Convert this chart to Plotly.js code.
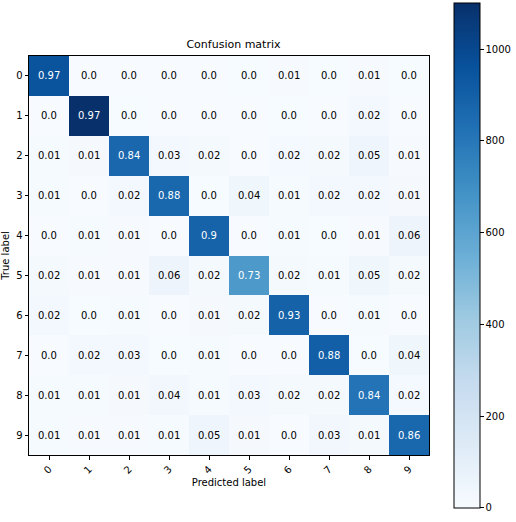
<!DOCTYPE html>
<html>
<head>
<meta charset="utf-8">
<script src="https://cdn.plot.ly/plotly-3.0.1.min.js"></script>
<style>
  html, body { margin: 0; padding: 0; background: #fff; }
  #chart { width: 516px; height: 522px; }
</style>
</head>
<body>
<div id="chart"></div>
<script>
// class labels for both axes
var class_labels = ['0', '1', '2', '3', '4', '5', '6', '7', '8', '9'];

// normalized values printed in each cell (rows = true label)
var cell_text = [
    ['0.97', '0.0', '0.0', '0.0', '0.0', '0.0', '0.01', '0.0', '0.01', '0.0'],
    ['0.0', '0.97', '0.0', '0.0', '0.0', '0.0', '0.0', '0.0', '0.02', '0.0'],
    ['0.01', '0.01', '0.84', '0.03', '0.02', '0.0', '0.02', '0.02', '0.05', '0.01'],
    ['0.01', '0.0', '0.02', '0.88', '0.0', '0.04', '0.01', '0.02', '0.02', '0.01'],
    ['0.0', '0.01', '0.01', '0.0', '0.9', '0.0', '0.01', '0.0', '0.01', '0.06'],
    ['0.02', '0.01', '0.01', '0.06', '0.02', '0.73', '0.02', '0.01', '0.05', '0.02'],
    ['0.02', '0.0', '0.01', '0.0', '0.01', '0.02', '0.93', '0.0', '0.01', '0.0'],
    ['0.0', '0.02', '0.03', '0.0', '0.01', '0.0', '0.0', '0.88', '0.0', '0.04'],
    ['0.01', '0.01', '0.01', '0.04', '0.01', '0.03', '0.02', '0.02', '0.84', '0.02'],
    ['0.01', '0.01', '0.01', '0.01', '0.05', '0.01', '0.0', '0.03', '0.01', '0.86']
];

// raw counts driving the cell colours (estimated from the shading)
var cell_counts = [
    [951, 0, 2, 1, 1, 3, 8, 3, 7, 4],
    [0, 1101, 3, 2, 0, 1, 4, 1, 22, 1],
    [10, 13, 867, 30, 17, 2, 21, 17, 48, 7],
    [10, 2, 23, 870, 3, 45, 9, 23, 24, 13],
    [1, 9, 8, 1, 884, 2, 10, 3, 8, 56],
    [19, 8, 8, 56, 18, 651, 18, 9, 45, 16],
    [22, 3, 9, 1, 13, 19, 891, 0, 9, 1],
    [2, 24, 28, 4, 9, 2, 0, 905, 3, 46],
    [10, 9, 13, 35, 11, 30, 19, 15, 818, 21],
    [11, 8, 6, 11, 52, 13, 1, 33, 14, 868]
];

var colorbar_ticks = [0, 200, 400, 600, 800, 1000];

// matplotlib "Blues"
var blues = [
    [0, '#f7fbff'], [0.125, '#deebf7'], [0.25, '#c6dbef'],
    [0.375, '#9ecae1'], [0.5, '#6baed6'], [0.625, '#4292c6'],
    [0.75, '#2171b5'], [0.875, '#08519c'], [1, '#08306b']
];

var zmax = Math.max.apply(null, cell_counts.map(function (r) { return Math.max.apply(null, r); }));
var thresh = zmax / 2;

var data = [{
    type: 'heatmap',
    x: class_labels,
    y: class_labels,
    z: cell_counts,
    zmin: 0,
    zmax: zmax,
    colorscale: blues,
    hoverinfo: 'skip',
    colorbar: {
        x: 1.0625, xanchor: 'left',
        y: 1.133, yanchor: 'top',
        lenmode: 'pixels', len: 505,
        thicknessmode: 'pixels', thickness: 26,
        xpad: 0, ypad: 0,
        outlinewidth: 1, outlinecolor: '#000',
        ticks: 'outside', ticklen: 3.5, tickcolor: '#000',
        tickmode: 'array',
        tickvals: colorbar_ticks,
        ticktext: colorbar_ticks.map(String),
        tickfont: {family: 'DejaVu Sans', size: 10, color: '#000'}
    }
}];

var annotations = [];
for (var i = 0; i < class_labels.length; i++) {
    for (var j = 0; j < class_labels.length; j++) {
        annotations.push({
            x: class_labels[j],
            y: class_labels[i],
            xref: 'x', yref: 'y',
            text: cell_text[i][j],
            showarrow: false,
            font: {
                family: 'DejaVu Sans',
                size: 10,
                color: cell_counts[i][j] > thresh ? 'white' : 'black'
            }
        });
    }
}

var layout = {
    width: 516,
    height: 522,
    margin: {l: 29, r: 87, t: 56, b: 67, autoexpand: false},
    paper_bgcolor: '#fff',
    plot_bgcolor: '#fff',
    font: {family: 'DejaVu Sans', color: '#000'},
    title: {
        text: 'Confusion matrix',
        font: {family: 'DejaVu Sans', size: 11, color: '#000'},
        x: 0.4525, xanchor: 'center',
        y: 0.915, yanchor: 'middle'
    },
    xaxis: {
        type: 'category',
        automargin: false,
        showline: true, mirror: true, linecolor: '#000', linewidth: 1,
        ticks: 'outside', ticklen: 3.5, tickcolor: '#000',
        tickangle: -45,
        tickfont: {family: 'DejaVu Sans', size: 10, color: '#000'},
        showgrid: false, zeroline: false,
        title: {text: 'Predicted label', standoff: 4,
                font: {family: 'DejaVu Sans', size: 10, color: '#000'}}
    },
    yaxis: {
        type: 'category',
        autorange: 'reversed',
        automargin: false,
        showline: true, mirror: true, linecolor: '#000', linewidth: 1,
        ticks: 'outside', ticklen: 3.5, tickcolor: '#000',
        tickfont: {family: 'DejaVu Sans', size: 10, color: '#000'},
        showgrid: false, zeroline: false,
        title: {text: 'True label', standoff: 13,
                font: {family: 'DejaVu Sans', size: 10, color: '#000'}}
    },
    annotations: annotations
};

Plotly.newPlot('chart', data, layout, {displayModeBar: false});
</script>
</body>
</html>
